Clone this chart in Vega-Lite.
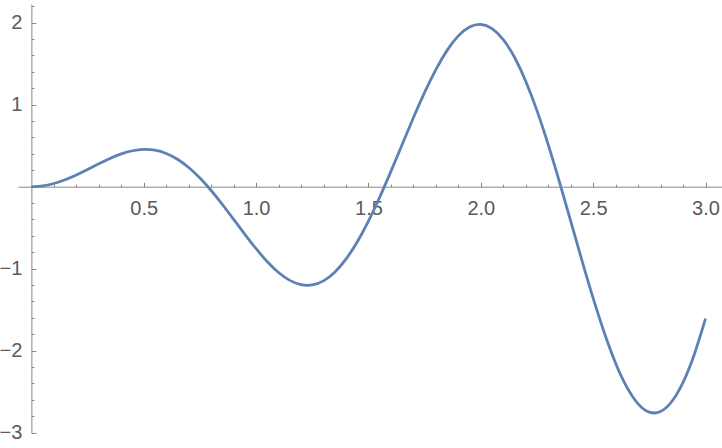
{
  "$schema": "https://vega.github.io/schema/vega-lite/v6.json",
  "autosize": {"type": "none"},
  "padding": {"left": 18, "top": 4, "right": 0, "bottom": 15},
  "width": 704,
  "height": 429,
  "background": "white",
  "config": {
    "view": {"stroke": null},
    "axis": {
      "grid": false,
      "domainColor": "#888888",
      "domainWidth": 1,
      "tickColor": "#888888",
      "tickWidth": 1,
      "labelColor": "#5a5a5a",
      "labelFont": "Liberation Sans",
      "labelFontSize": 20,
      "title": null
    }
  },
  "data": {
    "values": [
      {"x": 0, "y": 0},
      {"x": 0.05, "y": 0.009933},
      {"x": 0.1, "y": 0.038942},
      {"x": 0.15, "y": 0.084696},
      {"x": 0.2, "y": 0.143471},
      {"x": 0.25, "y": 0.210368},
      {"x": 0.3, "y": 0.279612},
      {"x": 0.35, "y": 0.344908},
      {"x": 0.4, "y": 0.39983},
      {"x": 0.45, "y": 0.438232},
      {"x": 0.5, "y": 0.454649},
      {"x": 0.55, "y": 0.444673},
      {"x": 0.6, "y": 0.405278},
      {"x": 0.65, "y": 0.335076},
      {"x": 0.7, "y": 0.234492},
      {"x": 0.75, "y": 0.10584},
      {"x": 0.8, "y": -0.046699},
      {"x": 0.85, "y": -0.21721},
      {"x": 0.9, "y": -0.398268},
      {"x": 0.95, "y": -0.581265},
      {"x": 1.0, "y": -0.756802},
      {"x": 1.05, "y": -0.915155},
      {"x": 1.1, "y": -1.046762},
      {"x": 1.15, "y": -1.142745},
      {"x": 1.2, "y": -1.195398},
      {"x": 1.25, "y": -1.198655},
      {"x": 1.3, "y": -1.148492},
      {"x": 1.35, "y": -1.043231},
      {"x": 1.4, "y": -0.883774},
      {"x": 1.45, "y": -0.673673},
      {"x": 1.5, "y": -0.419123},
      {"x": 1.55, "y": -0.128788},
      {"x": 1.6, "y": 0.186478},
      {"x": 1.65, "y": 0.514043},
      {"x": 1.7, "y": 0.839992},
      {"x": 1.75, "y": 1.149727},
      {"x": 1.8, "y": 1.428602},
      {"x": 1.85, "y": 1.66261},
      {"x": 1.9, "y": 1.839048},
      {"x": 1.95, "y": 1.947159},
      {"x": 2.0, "y": 1.978716},
      {"x": 2.05, "y": 1.928497},
      {"x": 2.1, "y": 1.794658},
      {"x": 2.15, "y": 1.578954},
      {"x": 2.2, "y": 1.286817},
      {"x": 2.25, "y": 0.927266},
      {"x": 2.3, "y": 0.512647},
      {"x": 2.35, "y": 0.058221},
      {"x": 2.4, "y": -0.418385},
      {"x": 2.45, "y": -0.897874},
      {"x": 2.5, "y": -1.360053},
      {"x": 2.55, "y": -1.784681},
      {"x": 2.6, "y": -2.152348},
      {"x": 2.65, "y": -2.445354},
      {"x": 2.7, "y": -2.648527},
      {"x": 2.75, "y": -2.749973},
      {"x": 2.8, "y": -2.741698},
      {"x": 2.85, "y": -2.620088},
      {"x": 2.9, "y": -2.386204},
      {"x": 2.95, "y": -2.045899},
      {"x": 3.0, "y": -1.609719}
    ]
  },
  "resolve": {"axis": {"x": "independent", "y": "independent"}},
  "layer": [
    {
      "mark": {"type": "line", "strokeOpacity": 0},
      "encoding": {
        "x": {
          "field": "x", "type": "quantitative",
          "scale": {"domain": [-0.0596, 3.0734], "nice": false, "zero": false},
          "axis": {
            "orient": "bottom", "offset": -246.3, "domain": false, "labels": false,
            "tickSize": -2.5,
            "values": [0.1, 0.2, 0.3, 0.4, 0.6, 0.7, 0.8, 0.9, 1.1, 1.2, 1.3, 1.4, 1.6, 1.7, 1.8, 1.9, 2.1, 2.2, 2.3, 2.4, 2.6, 2.7, 2.8, 2.9]
          }
        },
        "y": {
          "field": "y", "type": "quantitative",
          "scale": {"domain": [-3.004, 2.228], "nice": false, "zero": false},
          "axis": {
            "orient": "left", "offset": -13.4, "domain": false, "labels": false,
            "tickSize": -2.5,
            "values": [-2.8, -2.6, -2.4, -2.2, -1.8, -1.6, -1.4, -1.2, -0.8, -0.6, -0.4, -0.2, 0.2, 0.4, 0.6, 0.8, 1.2, 1.4, 1.6, 1.8, 2.2]
          }
        }
      }
    },
    {
      "mark": {"type": "line", "color": "#5E81B5", "strokeWidth": 2.8, "interpolate": "natural", "clip": true},
      "encoding": {
        "x": {
          "field": "x", "type": "quantitative",
          "axis": {
            "orient": "bottom", "offset": -246.3,
            "tickSize": -4.5, "labelPadding": 16,
            "values": [0.5, 1.0, 1.5, 2.0, 2.5, 3.0], "format": ".1f"
          }
        },
        "y": {
          "field": "y", "type": "quantitative",
          "axis": {
            "orient": "left", "offset": -13.4,
            "tickSize": -4.5, "labelPadding": 14,
            "values": [-3, -2, -1, 1, 2], "format": "d"
          }
        }
      }
    }
  ]
}
